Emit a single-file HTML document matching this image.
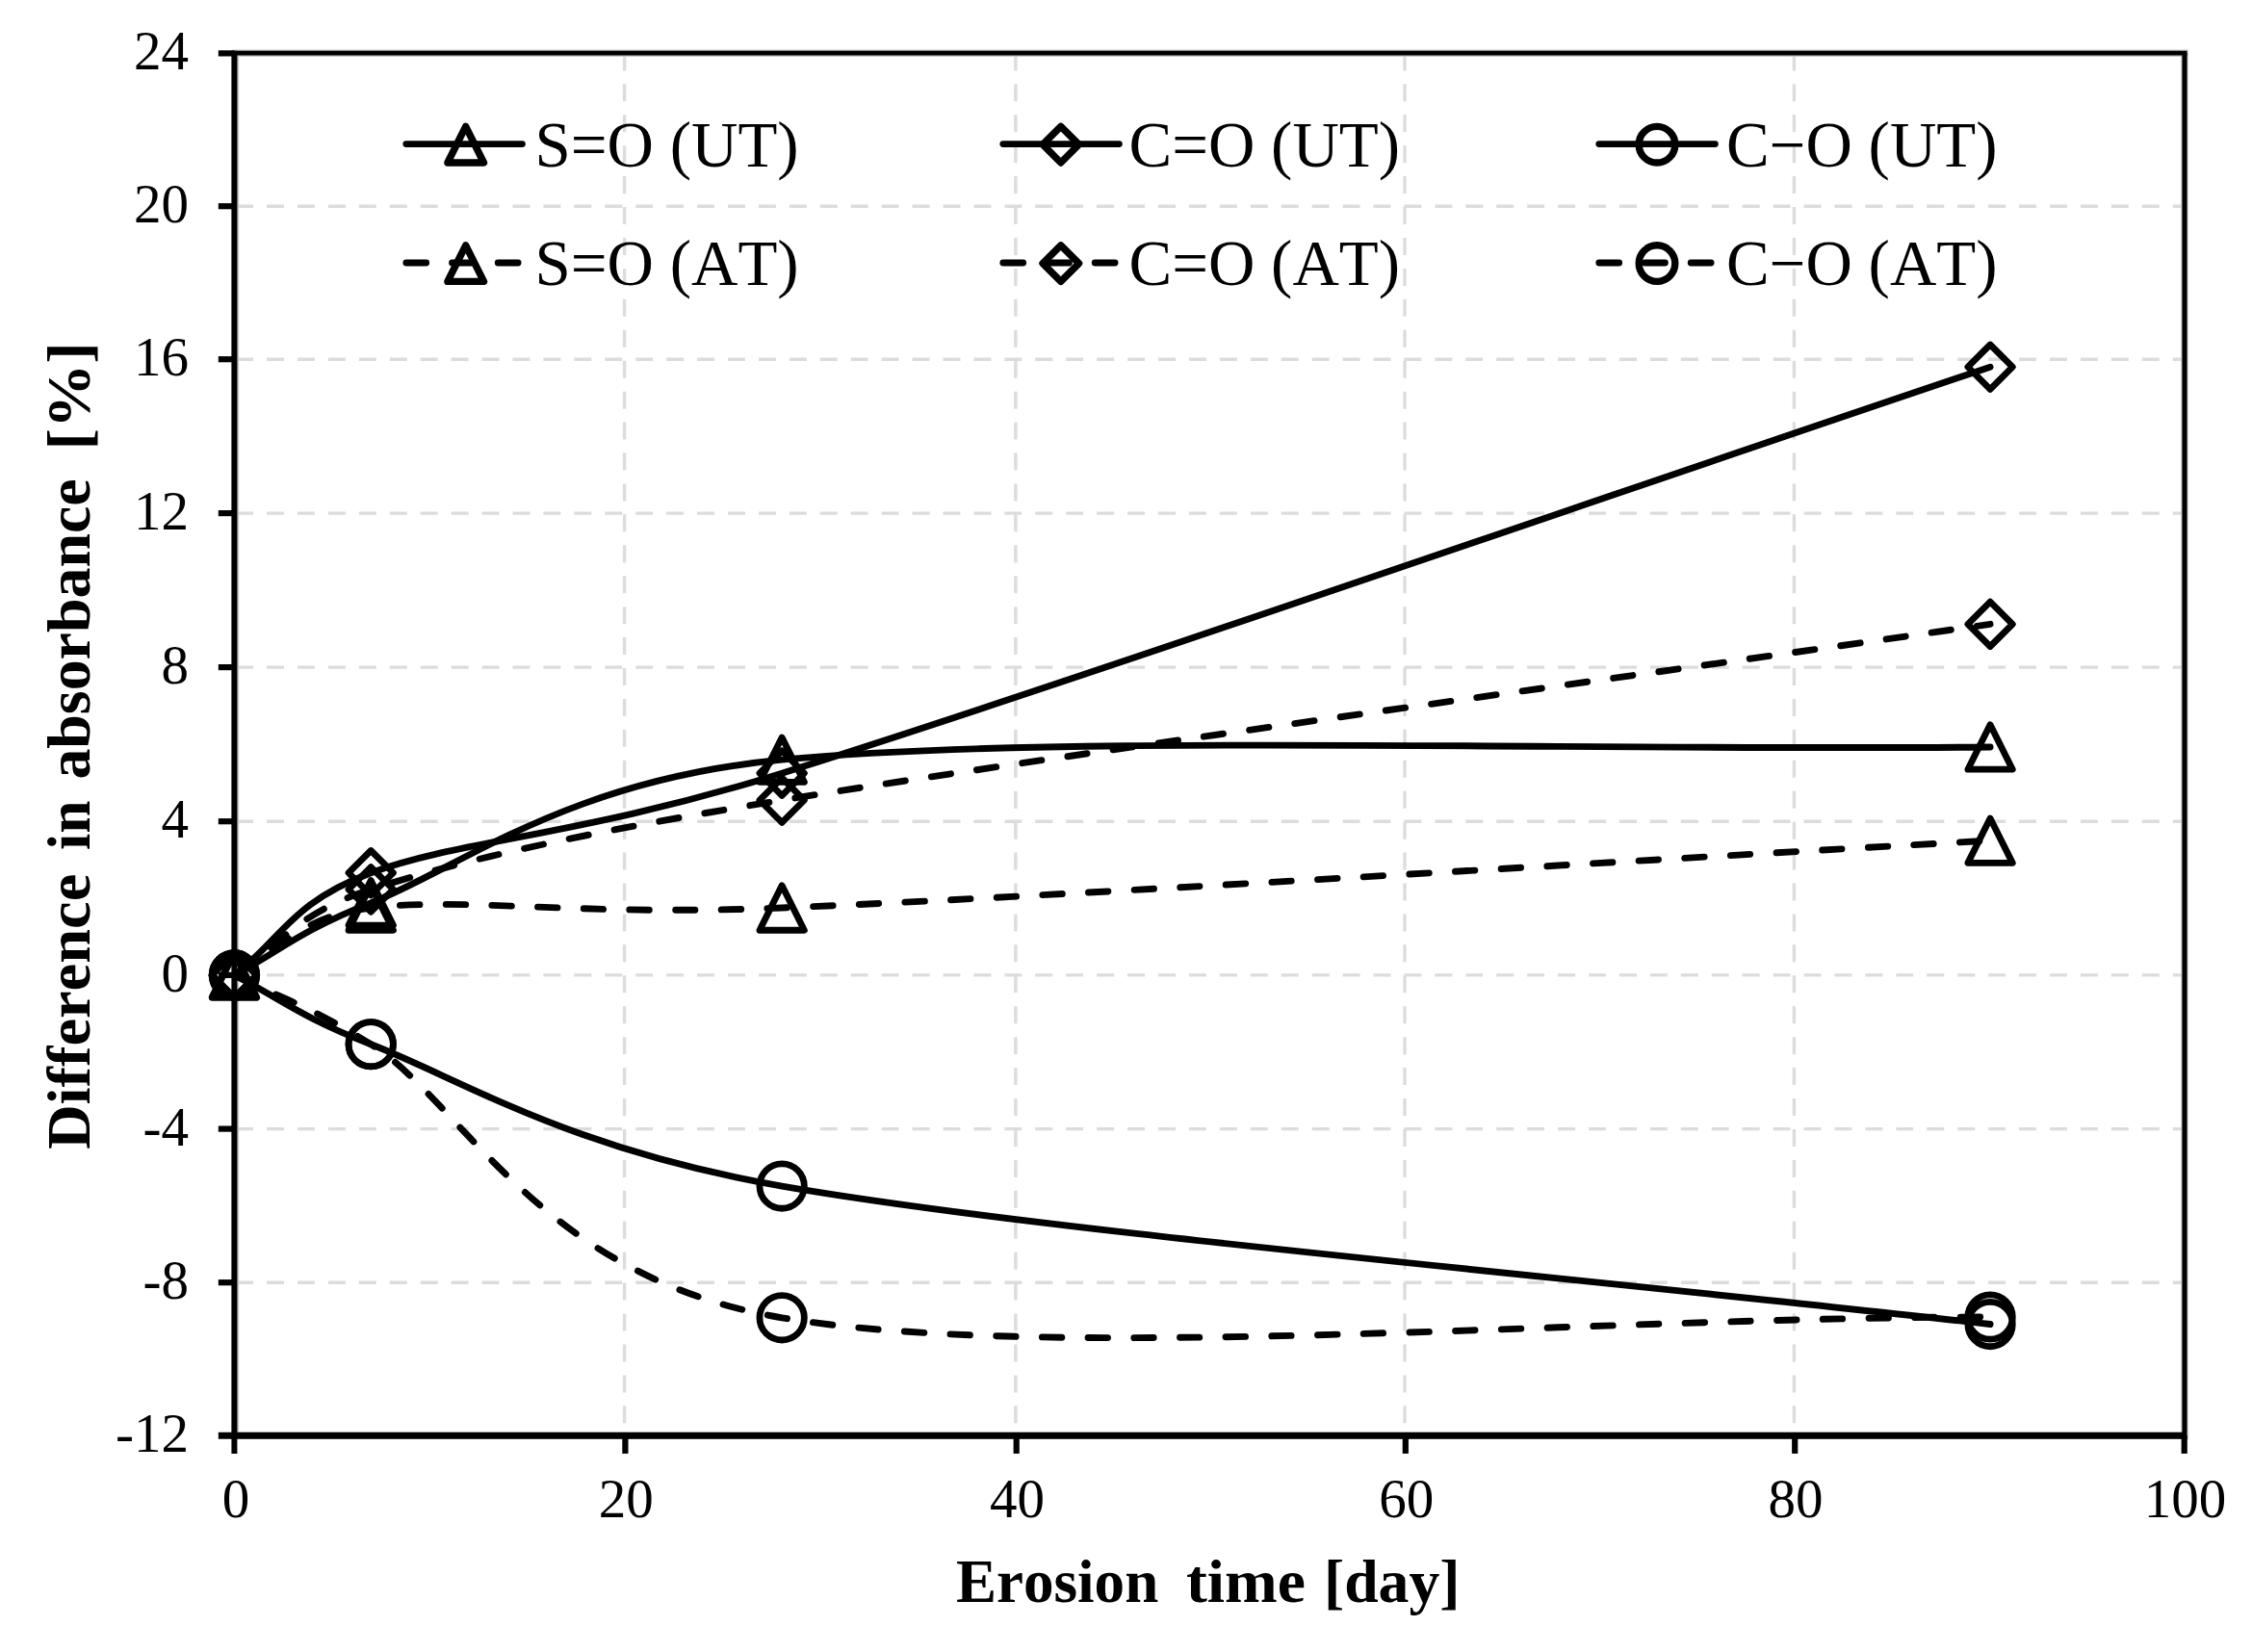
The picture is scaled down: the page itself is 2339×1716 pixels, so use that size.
<!DOCTYPE html>
<html lang="en">
<head>
<meta charset="utf-8">
<title>Difference in absorbance vs. erosion time</title>
<style>
html,body{margin:0;padding:0;background:#fff;}
body{width:2339px;height:1716px;overflow:hidden;}
svg{display:block;font-kerning:none;filter:blur(0.6px);}
</style>
</head>
<body>
<svg width="2339" height="1716" viewBox="0 0 2339 1716">
<rect width="2339" height="1716" fill="#fff"/>
<g stroke="#dcdcdc" stroke-width="3.4" stroke-dasharray="18.0 13.93" fill="none">
<path d="M245.1 1332.2 H2267.9"/>
<path d="M245.1 1172.6 H2267.9"/>
<path d="M245.1 1012.9 H2267.9"/>
<path d="M245.1 853.2 H2267.9"/>
<path d="M245.1 693.1 H2267.9"/>
<path d="M245.1 533.1 H2267.9"/>
<path d="M245.1 373.2 H2267.9"/>
<path d="M245.1 214.2 H2267.9"/>
<path d="M648.6 55.4 V1491.3"/>
<path d="M1054.9 55.4 V1491.3"/>
<path d="M1459 55.4 V1491.3"/>
<path d="M1863.4 55.4 V1491.3"/>
</g>
<rect x="244.4" y="55.2" width="2024.6" height="1436.1" fill="none" stroke="#c4c4c4" stroke-width="7.4"/>
<g stroke="#000" fill="none">
<path d="M243.4 55.1 H2271.5" stroke-width="4.6"/>
<path d="M2269 55.1 V1494.7" stroke-width="5.1"/>
<path d="M243.4 52.8 V1509.9" stroke-width="6.0"/>
<path d="M226.8 1491.3 H2269" stroke-width="6.9"/>
<path d="M226.8 1332.2 H243.4" stroke-width="6.2"/>
<path d="M226.8 1172.6 H243.4" stroke-width="6.2"/>
<path d="M226.8 1012.9 H243.4" stroke-width="6.2"/>
<path d="M226.8 853.2 H243.4" stroke-width="6.2"/>
<path d="M226.8 693.1 H243.4" stroke-width="6.2"/>
<path d="M226.8 533.1 H243.4" stroke-width="6.2"/>
<path d="M226.8 373.2 H243.4" stroke-width="6.2"/>
<path d="M226.8 214.2 H243.4" stroke-width="6.2"/>
<path d="M226.8 55.4 H243.4" stroke-width="6.2"/>
<path d="M649.4 1491.3 V1509.9" stroke-width="6.2"/>
<path d="M1055.7 1491.3 V1509.9" stroke-width="6.2"/>
<path d="M1459.8 1491.3 V1509.9" stroke-width="6.2"/>
<path d="M1864.2 1491.3 V1509.9" stroke-width="6.2"/>
<path d="M2268.7 1491.3 V1509.9" stroke-width="6.2"/>
</g>
<g font-family="'Liberation Serif', 'Times New Roman', serif" font-size="57" fill="#000">
<text x="196" y="1508.3" text-anchor="end">-12</text>
<text x="196" y="1349.2" text-anchor="end">-8</text>
<text x="196" y="1189.6" text-anchor="end">-4</text>
<text x="196" y="1029.9" text-anchor="end">0</text>
<text x="196" y="870.2" text-anchor="end">4</text>
<text x="196" y="710.1" text-anchor="end">8</text>
<text x="196" y="550.1" text-anchor="end">12</text>
<text x="196" y="390.2" text-anchor="end">16</text>
<text x="196" y="231.2" text-anchor="end">20</text>
<text x="196" y="72.4" text-anchor="end">24</text>
<text x="245.1" y="1576" text-anchor="middle">0</text>
<text x="650.3" y="1576" text-anchor="middle">20</text>
<text x="1056.6" y="1576" text-anchor="middle">40</text>
<text x="1460.7" y="1576" text-anchor="middle">60</text>
<text x="1865.1" y="1576" text-anchor="middle">80</text>
<text x="2269.6" y="1576" text-anchor="middle">100</text>
</g>
<path d="M243.4 1012.9 C290.67 987.88 310.56 967.21 385.22 937.84 C480.01 900.55 587.14 810.82 812.14 789.16 C1092.44 762.18 1648.76 780.35 2067.07 775.95" fill="none" stroke="#000" stroke-width="6.9" stroke-linecap="round" stroke-linejoin="round"/>
<path d="M243.4 1012.9 C290.67 977.5 302.1 937.35 385.22 906.7 C480.01 871.74 602.49 868.68 812.14 803.17 C1092.44 715.58 1648.76 521.85 2067.07 381.19" fill="none" stroke="#000" stroke-width="6.9" stroke-linecap="round" stroke-linejoin="round"/>
<path d="M243.4 1012.9 C290.67 1036.86 311.04 1056.18 385.22 1084.76 C480.01 1121.29 589.63 1193.58 812.14 1232.05 C1092.44 1280.52 1648.76 1327.72 2067.07 1375.55" fill="none" stroke="#000" stroke-width="6.9" stroke-linecap="round" stroke-linejoin="round"/>
<path d="M243.4 1012.9 C290.67 989.61 306.76 952.67 385.22 943.03 C480.01 931.39 598.86 951.89 812.14 943.03 C1092.44 931.39 1648.76 896.45 2067.07 873.16" fill="none" stroke="#000" stroke-width="6.9" stroke-linecap="round" stroke-linejoin="round" stroke-dasharray="20.4 27.3"/>
<path d="M243.4 1012.9 C290.67 983.22 305.47 949.35 385.22 923.87 C480.01 893.58 596.58 866.5 812.14 831.19 C1092.44 785.26 1648.76 709.26 2067.07 648.3" fill="none" stroke="#000" stroke-width="6.9" stroke-linecap="round" stroke-linejoin="round" stroke-dasharray="20.4 27.3"/>
<path d="M243.4 1012.9 C290.67 1036.86 317.83 1042.6 385.22 1084.76 C480.01 1144.08 559.31 1326.22 812.14 1368.79 C1092.44 1416 1648.76 1368.26 2067.07 1368" fill="none" stroke="#000" stroke-width="6.9" stroke-linecap="round" stroke-linejoin="round" stroke-dasharray="20.4 27.3"/>
<path d="M243.4 989.7 L266.6 1036.1 L220.2 1036.1 Z" fill="none" stroke="#000" stroke-width="6.8" stroke-linejoin="round"/>
<path d="M385.22 914.64 L408.42 961.04 L362.02 961.04 Z" fill="none" stroke="#000" stroke-width="6.8" stroke-linejoin="round"/>
<path d="M812.14 765.96 L835.34 812.36 L788.94 812.36 Z" fill="none" stroke="#000" stroke-width="6.8" stroke-linejoin="round"/>
<path d="M2067.07 752.75 L2090.27 799.15 L2043.87 799.15 Z" fill="none" stroke="#000" stroke-width="6.8" stroke-linejoin="round"/>
<path d="M243.4 989.7 L266.6 1012.9 L243.4 1036.1 L220.2 1012.9 Z" fill="none" stroke="#000" stroke-width="6.8" stroke-linejoin="round"/>
<path d="M385.22 883.5 L408.42 906.7 L385.22 929.9 L362.02 906.7 Z" fill="none" stroke="#000" stroke-width="6.8" stroke-linejoin="round"/>
<path d="M812.14 779.97 L835.34 803.17 L812.14 826.37 L788.94 803.17 Z" fill="none" stroke="#000" stroke-width="6.8" stroke-linejoin="round"/>
<path d="M2067.07 357.99 L2090.27 381.19 L2067.07 404.39 L2043.87 381.19 Z" fill="none" stroke="#000" stroke-width="6.8" stroke-linejoin="round"/>
<circle cx="243.4" cy="1012.9" r="23.2" fill="none" stroke="#000" stroke-width="6.8"/>
<circle cx="385.22" cy="1084.76" r="23.2" fill="none" stroke="#000" stroke-width="6.8"/>
<circle cx="812.14" cy="1232.05" r="23.2" fill="none" stroke="#000" stroke-width="6.8"/>
<circle cx="2067.07" cy="1375.55" r="23.2" fill="none" stroke="#000" stroke-width="6.8"/>
<path d="M243.4 989.7 L266.6 1036.1 L220.2 1036.1 Z" fill="none" stroke="#000" stroke-width="6.8" stroke-linejoin="round"/>
<path d="M385.22 919.83 L408.42 966.23 L362.02 966.23 Z" fill="none" stroke="#000" stroke-width="6.8" stroke-linejoin="round"/>
<path d="M812.14 919.83 L835.34 966.23 L788.94 966.23 Z" fill="none" stroke="#000" stroke-width="6.8" stroke-linejoin="round"/>
<path d="M2067.07 849.96 L2090.27 896.36 L2043.87 896.36 Z" fill="none" stroke="#000" stroke-width="6.8" stroke-linejoin="round"/>
<path d="M243.4 989.7 L266.6 1012.9 L243.4 1036.1 L220.2 1012.9 Z" fill="none" stroke="#000" stroke-width="6.8" stroke-linejoin="round"/>
<path d="M385.22 900.67 L408.42 923.87 L385.22 947.07 L362.02 923.87 Z" fill="none" stroke="#000" stroke-width="6.8" stroke-linejoin="round"/>
<path d="M812.14 807.99 L835.34 831.19 L812.14 854.39 L788.94 831.19 Z" fill="none" stroke="#000" stroke-width="6.8" stroke-linejoin="round"/>
<path d="M2067.07 625.1 L2090.27 648.3 L2067.07 671.5 L2043.87 648.3 Z" fill="none" stroke="#000" stroke-width="6.8" stroke-linejoin="round"/>
<circle cx="243.4" cy="1012.9" r="23.2" fill="none" stroke="#000" stroke-width="6.8"/>
<circle cx="385.22" cy="1084.76" r="23.2" fill="none" stroke="#000" stroke-width="6.8"/>
<circle cx="812.14" cy="1368.79" r="23.2" fill="none" stroke="#000" stroke-width="6.8"/>
<circle cx="2067.07" cy="1368" r="23.2" fill="none" stroke="#000" stroke-width="6.8"/>
<g font-family="'Liberation Serif', 'Times New Roman', serif" font-size="67" fill="#000">
<path d="M421.85 149.6 H542.35" stroke="#000" stroke-width="6.9" stroke-linecap="round" fill="none"/>
<path d="M483.7 131.4 L502.5 169 L464.9 169 Z" fill="none" stroke="#000" stroke-width="7.4" stroke-linejoin="round"/>
<text x="555.5" y="172.6">S=O (UT)</text>
<path d="M1041.85 149.6 H1162.35" stroke="#000" stroke-width="6.9" stroke-linecap="round" fill="none"/>
<path d="M1101.8 131.4 L1120.6 150.2 L1101.8 169 L1083 150.2 Z" fill="none" stroke="#000" stroke-width="7.4" stroke-linejoin="round"/>
<text x="1172.5" y="172.6">C=O (UT)</text>
<path d="M1660.85 149.6 H1781.35" stroke="#000" stroke-width="6.9" stroke-linecap="round" fill="none"/>
<circle cx="1721" cy="150.2" r="18.8" fill="none" stroke="#000" stroke-width="7.4"/>
<text x="1793" y="172.6">C−O (UT)</text>
<path d="M421.85 273.0 H542.35" stroke="#000" stroke-width="6.9" stroke-linecap="round" stroke-dasharray="20.8 26.9" fill="none"/>
<path d="M483.7 254.8 L502.5 292.4 L464.9 292.4 Z" fill="none" stroke="#000" stroke-width="7.4" stroke-linejoin="round"/>
<text x="555.5" y="295.6">S=O (AT)</text>
<path d="M1041.85 273.0 H1162.35" stroke="#000" stroke-width="6.9" stroke-linecap="round" stroke-dasharray="20.8 26.9" fill="none"/>
<path d="M1101.8 254.8 L1120.6 273.6 L1101.8 292.4 L1083 273.6 Z" fill="none" stroke="#000" stroke-width="7.4" stroke-linejoin="round"/>
<text x="1172.5" y="295.6">C=O (AT)</text>
<path d="M1660.85 273.0 H1781.35" stroke="#000" stroke-width="6.9" stroke-linecap="round" stroke-dasharray="20.8 26.9" fill="none"/>
<circle cx="1721" cy="273.6" r="18.8" fill="none" stroke="#000" stroke-width="7.4"/>
<text x="1793" y="295.6">C−O (AT)</text>
</g>
<g font-family="'Liberation Serif', 'Times New Roman', serif" font-size="64" font-weight="bold" fill="#000">
<text x="993.02" y="1664" textLength="210.17" lengthAdjust="spacingAndGlyphs">Erosion</text>
<text x="1231.97" y="1664" textLength="123.97" lengthAdjust="spacingAndGlyphs">time</text>
<text x="1375.02" y="1664" textLength="141.47" lengthAdjust="spacingAndGlyphs">[day]</text>
<text transform="translate(92.5 1192.9) rotate(-90)" x="-1.01" y="0" textLength="286.12" lengthAdjust="spacingAndGlyphs">Difference</text>
<text transform="translate(92.5 882) rotate(-90)" x="-0.96" y="0" textLength="51.44" lengthAdjust="spacingAndGlyphs">in</text>
<text transform="translate(92.5 807.6) rotate(-90)" x="-2" y="0" textLength="312.2" lengthAdjust="spacingAndGlyphs">absorbance</text>
<text transform="translate(92.5 463.3) rotate(-90)" x="-4.21" y="0" textLength="112.25" lengthAdjust="spacingAndGlyphs">[%]</text>
</g>
</svg>
</body>
</html>
